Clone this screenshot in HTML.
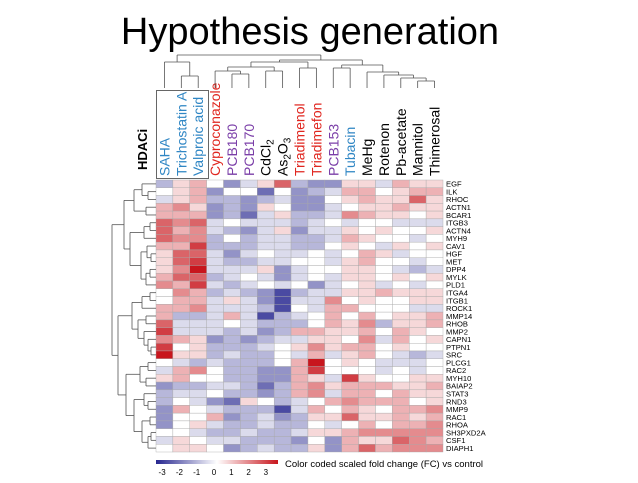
<!DOCTYPE html>
<html><head><meta charset="utf-8"><style>
html,body{margin:0;padding:0;background:#fff;}
body{width:638px;height:478px;overflow:hidden;font-family:"Liberation Sans",sans-serif;}
</style></head><body>
<svg id="chart" width="638" height="478" xmlns="http://www.w3.org/2000/svg" font-family="Liberation Sans, sans-serif">
<text x="310" y="44" font-size="38" text-anchor="middle" fill="#000">Hypothesis generation</text>
<rect x="156.5" y="90.5" width="52" height="88" fill="none" stroke="#666" stroke-width="1"/>
<text transform="translate(147,170) rotate(-90)" font-size="13" font-weight="bold" fill="#000">HDACi</text>
<g id="grid"></g>
<g id="collabels"></g>
<g id="rowlabels"></g>
<g id="dendro" stroke="#555" stroke-width="0.8" fill="none"></g>
<defs><linearGradient id="cb" x1="0" x2="1" y1="0" y2="0">
<stop offset="0" stop-color="#26268f"/><stop offset="0.5" stop-color="#ffffff"/><stop offset="1" stop-color="#c8161d"/></linearGradient></defs>
<rect x="156" y="460" width="122" height="4" fill="url(#cb)"/>
<g id="cbticks" font-size="8" fill="#000" text-anchor="middle"></g>
<text x="285" y="467" font-size="9.5" fill="#000">Color coded scaled fold change (FC) vs control</text>
</svg>
<script>
const columns = ["SAHA","Trichostatin A","Valproic acid","Cyproconazole","PCB180","PCB170","CdCl2","As2O3","Triadimenol","Triadimefon","PCB153","Tubacin","MeHg","Rotenon","Pb-acetate","Mannitol","Thimerosal"];
const columnColors = ["#2f86c4","#2f86c4","#2f86c4","#e0261f","#7b3fa8","#7b3fa8","#000","#000","#e0261f","#e0261f","#7b3fa8","#2f86c4","#000","#000","#000","#000","#000"];
const rows = ["EGF","ILK","RHOC","ACTN1","BCAR1","ITGB3","ACTN4","MYH9","CAV1","HGF","MET","DPP4","MYLK","PLD1","ITGA4","ITGB1","ROCK1","MMP14","RHOB","MMP2","CAPN1","PTPN1","SRC","PLCG1","RAC2","MYH10","BAIAP2","STAT3","RND3","MMP9","RAC1","RHOA","SH3PXD2A","CSF1","DIAPH1"];
const values = [
[-1,0.5,1,0,-1.5,-0.5,0.5,2,-1,-1.5,-1.5,0.5,0.5,-0.5,1,0.5,0.5],
[0,0.5,1,-1.5,0,0,-2,0,-1.5,-1,-0.5,1,1,0,0.5,1,1],
[-0.5,0.5,1,-1,-1,-1.5,-1,-0.5,-1.5,-1.5,0,0.5,1,0.5,0.5,2,0.5],
[1,1.5,0.5,-1.5,-1,-1.5,0.5,0,-1.5,-1.5,-0.5,0,0.5,0.5,1,0.5,0.5],
[1,1,1,-1.5,-1,-2,-0.5,0.5,-1,-1,-0.5,1.5,1,0.5,0.5,0,0.5],
[2,1.5,2,-0.5,0,-0.5,-0.5,-0.5,-1,-0.5,0,-0.5,0,0,-0.5,-0.5,-0.5],
[2,1,1.5,-0.5,-1,-1.5,-0.5,0.5,-1.5,-0.5,-0.5,0.5,0,0.5,0,0,0.5],
[2,1.5,1.5,-1,0,-1,-0.5,-0.5,-1,-1,-0.5,1,0.5,0,0,-0.5,0],
[1,1,2.5,-1,-1,-1,-0.5,-0.5,-1,-1,0,0.5,0,-0.5,0.5,0,0.5],
[0.5,2,2,-0.5,-1.5,-0.5,0,-0.5,-0.5,0,-0.5,0,1,0.5,-0.5,0,0],
[0.5,2,2.5,-0.5,-1,-1,-0.5,-0.5,0,0,-0.5,0.5,1,0,0,-0.5,0],
[0.5,1.5,3,-0.5,-0.5,-0.5,0.5,-1.5,-0.5,0,0,0.5,0.5,0,-0.5,-1,-0.5],
[1,2,2,-1,-0.5,0,-0.5,-1.5,-0.5,0,-0.5,0.5,0.5,0,0.5,0,0.5],
[1.5,1,2.5,-0.5,-1,-0.5,0,-0.5,0,-1.5,-0.5,0,0.5,-0.5,0,-0.5,0],
[0,1.5,1,-1,-0.5,-1,-1.5,-2.5,-1,-0.5,-0.5,0.5,0.5,1,0.5,0.5,0.5],
[0,1,1,-0.5,0.5,-0.5,-1.5,-2.5,-0.5,-0.5,1.5,0,0.5,0,0,0.5,0.5],
[1,1,1.5,-0.5,-0.5,-0.5,-1,-2.5,0,-0.5,1,1,0,0,0,-0.5,-0.5],
[1,-1,-1,-0.5,1,-0.5,-2.5,-1,-0.5,0,1,0,1,0,0.5,0.5,1],
[2,-0.5,-0.5,-0.5,0,-0.5,-1,-1,-1,0,1,0.5,1.5,-1,0.5,0.5,1],
[2.5,-0.5,-0.5,-0.5,-1,-0.5,-1.5,-1,1,1,0.5,0.5,1,0,1,0.5,0],
[1.5,1,0.5,-1.5,-1,-1.5,-1,-0.5,-0.5,0.5,0.5,0,1.5,-0.5,1,0,0.5],
[2.5,0,0.5,-1,-1,-1,-0.5,0,0.5,1.5,0.5,1,1,0,0.5,0,0],
[3,0.5,0.5,-1,-0.5,-1,-1,0,-0.5,1,-0.5,0.5,1,0,-0.5,-1,-0.5],
[0,-0.5,-1,-0.5,-1,-1,-1,0,1,3,0,0.5,0,-0.5,-0.5,-0.5,0],
[-0.5,1,1.5,0,-1,-1,-1.5,-1.5,1,2.5,0,0,0,-0.5,0,-0.5,0],
[0.5,1,0,0,-1,-1,-1.5,-1.5,1,0.5,-0.5,2.5,0.5,0,0,0.5,0.5],
[-1.5,-1,-1,-0.5,-0.5,-1,-2,-1,1,1.5,0.5,1,1,1,0.5,0.5,1],
[-1,-0.5,-0.5,0,-1,-1,-1.5,-1,1,1.5,-0.5,1,1,0,1,0.5,0.5],
[-1,0,-0.5,-1.5,-2,0.5,0,-1,-0.5,0,1,1.5,1,1,1,0,0.5],
[-1.5,1,0,-0.5,-1,-1,-1,-2.5,-0.5,1,0,1,0.5,0,1,1,1.5],
[-1.5,0,0,1,-1.5,-1,-0.5,-1.5,-1,0.5,0.5,2,0.5,0.5,1,0.5,1],
[-1.5,0,0.5,-0.5,-1,-1,-0.5,-1,-1,0,-0.5,0,1,0,1,1,1.5],
[0,0,-0.5,-1,-1,-0.5,-1,-1,-0.5,0.5,0.5,1,1.5,1.5,1.5,1.5,1.5],
[-0.5,0.5,0,-0.5,-0.5,-1,-1,-1,-1.5,0,-1.5,1,0.5,0.5,2,1.5,1],
[0,0.5,0.5,0,-1.5,-1,-0.5,-1,-1,0.5,-1.5,1,2,1,1.5,1.5,1.5]
];
const scaleTicks = [-3,-2,-1,0,1,2,3];

const NS="http://www.w3.org/2000/svg";
const gx0=156, gx1=443, gy0=180, gy1=452;
const cw=(gx1-gx0)/columns.length, rh=(gy1-gy0)/rows.length;
const xCol=i=>gx0+i*cw, yRow=j=>gy0+j*rh;
function color(v){
  const t=Math.max(-1,Math.min(1,v/3));
  const end=t<0?[38,38,143]:[200,22,29];
  const a=Math.abs(t);
  const c=[0,1,2].map(k=>Math.round(255+(end[k]-255)*a));
  return "rgb("+c.join(",")+")";
}
const grid=document.getElementById("grid");
values.forEach((row,j)=>row.forEach((v,i)=>{
  const r=document.createElementNS(NS,"rect");
  r.setAttribute("x",xCol(i));r.setAttribute("y",yRow(j));
  r.setAttribute("width",cw);r.setAttribute("height",rh);
  r.setAttribute("fill",color(v));r.setAttribute("stroke","#a8a8a8");r.setAttribute("stroke-width","0.4");
  
  
  grid.appendChild(r);
}));
const cl=document.getElementById("collabels");
columns.forEach((c,i)=>{
  const t=document.createElementNS(NS,"text");
  const x=xCol(i)+cw/2+5;
  t.setAttribute("transform","translate("+x+",176) rotate(-90)");
  t.setAttribute("font-size","14");t.setAttribute("fill",columnColors[i]);
  if(c==="CdCl2"){t.innerHTML='CdCl<tspan font-size="10" dy="3">2</tspan>';}
  else if(c==="As2O3"){t.innerHTML='As<tspan font-size="10" dy="3">2</tspan><tspan dy="-3">O</tspan><tspan font-size="10" dy="3">3</tspan>';}
  else t.textContent=c;
  
  
  cl.appendChild(t);
});
const rl=document.getElementById("rowlabels");
rows.forEach((r,j)=>{
  const t=document.createElementNS(NS,"text");
  t.setAttribute("x",446);t.setAttribute("y",yRow(j)+rh/2+2.8);
  t.setAttribute("font-size","7.6");t.textContent=r;
  
  
  rl.appendChild(t);
});
const cb=document.getElementById("cbticks");
scaleTicks.forEach(v=>{
  const t=document.createElementNS(NS,"text");
  t.setAttribute("x",214+v*17.3);t.setAttribute("y",475);t.textContent=v;
  
  
  cb.appendChild(t);
});
// dendrograms
const dg=document.getElementById("dendro");
function line(x1,y1,x2,y2){
  const l=document.createElementNS(NS,"path");
  l.setAttribute("d","M"+x1+" "+y1+"L"+x2+" "+y2);
  
  
  dg.appendChild(l);
}
// row tree: [height, child, child]
const rowTree=[44,
 [32,[22,[14,0,[8,1,2]],[10,3,4]],[26,[12,[6,5,6],7],[15,[9,8,[5,9,10]],[10,[6,11,12],13]]]],
 [38,[24,[14,[6,14,15],16],[18,[10,17,18],[12,19,[8,20,[5,21,22]]]]],
     [30,[16,[8,23,24],[10,25,26]],[22,[12,27,[8,28,29]],[14,[6,30,31],[8,[5,32,33],34]]]]]];
function drawRow(n){
  if(typeof n==="number") return {y:yRow(n)+rh/2,x:gx0};
  const x=gx0-n[0]; const ys=[];
  for(let k=1;k<n.length;k++){const c=drawRow(n[k]);line(x,c.y,c.x,c.y);ys.push(c.y);}
  line(x,Math.min(...ys),x,Math.max(...ys));
  return {y:(Math.min(...ys)+Math.max(...ys))/2,x:x};
}
const rr=drawRow(rowTree);
// column tree: [y, child, child]
const colTree=[55,[62,0,[76,1,2]],[60,[62,[67,[71,3,[74,4,5]],[71,6,7]],[68,8,9]],[65,[68,10,11],[72,12,[75,13,[78,14,[81,15,16]]]]]]];
function drawCol(n){
  if(typeof n==="number") return {x:xCol(n)+cw/2,y:88};
  const y=n[0]; const xs=[];
  for(let k=1;k<n.length;k++){const c=drawCol(n[k]);line(c.x,y,c.x,c.y);xs.push(c.x);}
  line(Math.min(...xs),y,Math.max(...xs),y);
  return {x:(Math.min(...xs)+Math.max(...xs))/2,y:y};
}
drawCol(colTree);
</script>
</body></html>
